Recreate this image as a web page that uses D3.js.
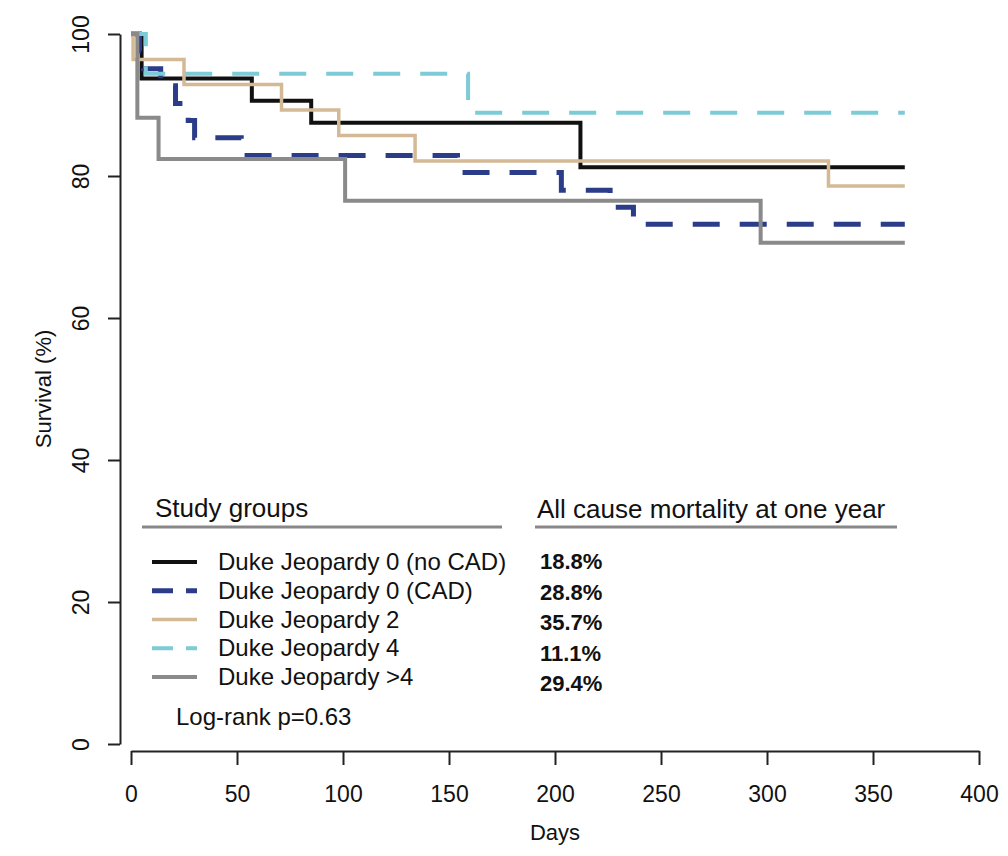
<!DOCTYPE html>
<html>
<head>
<meta charset="utf-8">
<script src="https://cdn.jsdelivr.net/npm/d3@7"></script>
<style>
  body { margin: 0; background: #fff; }
  text { font-family: "Liberation Sans", Arial, sans-serif; fill: #111; }
</style>
</head>
<body>
<div id="main"></div>
<script>
// Kaplan-Meier steps, [day, survival %]
const noCad = [[0, 100], [5, 93.75], [57, 90.6], [85, 87.5], [212, 81.25], [365, 81.25]];
const cad = [[0, 100], [4, 97.6], [6, 95.1], [14, 92.7], [21, 90.2], [27, 87.8], [30, 85.4],
             [52, 82.9], [154, 80.5], [203, 78.0], [226, 75.6], [237, 73.2], [365, 73.2]];
const dj2 = [[0, 100], [1, 96.4], [25, 92.9], [71, 89.3], [98, 85.7], [134, 82.1], [329, 78.6], [365, 78.6]];
const dj4 = [[0, 100], [7, 94.4], [159, 88.9], [365, 88.9]];
const dj4plus = [[0, 100], [3, 88.2], [13, 82.4], [101, 76.5], [297, 70.6], [365, 70.6]];

const groups = ['Duke Jeopardy 0 (no CAD)', 'Duke Jeopardy 0 (CAD)', 'Duke Jeopardy 2', 'Duke Jeopardy 4', 'Duke Jeopardy >4'];
const mortality = ['18.8%', '28.8%', '35.7%', '11.1%', '29.4%'];
const xTicks = [0, 50, 100, 150, 200, 250, 300, 350, 400];
const yTicks = [0, 20, 40, 60, 80, 100];

// line look for each group
const styles = [
    { color: '#111111', width: 4, dash: null, legendDash: null },
    { color: '#2b3c88', width: 5, dash: '27 20', legendDash: '21 13' },
    { color: '#d3b995', width: 3.5, dash: null, legendDash: null },
    { color: '#7ccbd6', width: 4, dash: '27 20', legendDash: '21 13' },
    { color: '#8a8a8a', width: 4, dash: null, legendDash: null }
];
const series = [noCad, cad, dj2, dj4, dj4plus];

const width = 1008, height = 856;

let svg = d3.select('#main')
    .append('svg')
        .attr('width', width)
        .attr('height', height);

const x = d3.scaleLinear().domain([0, 400]).range([131, 979]);
const y = d3.scaleLinear().domain([0, 100]).range([744, 34]);

// x axis sits a bit below the plot, R style
const xAxis = svg.append('g')
    .attr('transform', 'translate(0,751)')
    .call(d3.axisBottom(x).tickValues(xTicks).tickSize(14).tickSizeOuter(0).tickPadding(21));
xAxis.selectAll('text').style('font-size', '23px').attr('fill', '#111');

const yAxis = svg.append('g')
    .attr('transform', 'translate(120,0)')
    .call(d3.axisLeft(y).tickValues(yTicks).tickSize(12).tickSizeOuter(0));
yAxis.selectAll('text')
    .attr('x', null).attr('dy', null)
    .attr('text-anchor', 'middle')
    .attr('transform', 'translate(-31,0) rotate(-90)')
    .style('font-size', '23px').attr('fill', '#111');

svg.selectAll('.domain, .tick line').attr('stroke', '#222').attr('stroke-width', 2);

svg.append('text')
    .attr('x', 555).attr('y', 840)
    .attr('text-anchor', 'middle')
    .style('font-size', '22px')
    .text('Days');

svg.append('text')
    .attr('transform', 'translate(51,389) rotate(-90)')
    .attr('text-anchor', 'middle')
    .style('font-size', '22px')
    .text('Survival (%)');

// survival curves
const line = d3.line()
    .x(d => x(d[0]))
    .y(d => y(d[1]))
    .curve(d3.curveStepAfter);

svg.selectAll('.curve')
    .data(series)
    .enter()
    .append('path')
        .attr('class', 'curve')
        .attr('d', line)
        .attr('fill', 'none')
        .attr('stroke', (d, i) => styles[i].color)
        .attr('stroke-width', (d, i) => styles[i].width)
        .attr('stroke-dasharray', (d, i) => styles[i].dash);

// legend table
svg.append('text').attr('x', 155).attr('y', 517).style('font-size', '26px').text('Study groups');
svg.append('text').attr('x', 537).attr('y', 518).style('font-size', '26px').text('All cause mortality at one year');
svg.append('line').attr('x1', 142).attr('x2', 502).attr('y1', 527).attr('y2', 527)
    .attr('stroke', '#888').attr('stroke-width', 3);
svg.append('line').attr('x1', 535).attr('x2', 897).attr('y1', 527).attr('y2', 527)
    .attr('stroke', '#888').attr('stroke-width', 3);

const rows = svg.selectAll('.row')
    .data(groups)
    .enter()
    .append('g')
        .attr('class', 'row')
        .attr('transform', (d, i) => `translate(0,${562 + i * 28.75})`);

rows.append('line')
    .attr('x1', 152).attr('x2', 197)
    .attr('stroke', (d, i) => styles[i].color)
    .attr('stroke-width', (d, i) => styles[i].width)
    .attr('stroke-dasharray', (d, i) => styles[i].legendDash);

rows.append('text')
    .attr('x', 218).attr('y', 8)
    .style('font-size', '24px')
    .text(d => d);

svg.selectAll('.pct')
    .data(mortality)
    .enter()
    .append('text')
        .attr('class', 'pct')
        .attr('x', 540)
        .attr('y', (d, i) => 569 + i * 30.5)
        .style('font-size', '22px')
        .style('font-weight', 'bold')
        .text(d => d);

svg.append('text').attr('x', 176).attr('y', 725).style('font-size', '24px').text('Log-rank p=0.63');
</script>
</body>
</html>
